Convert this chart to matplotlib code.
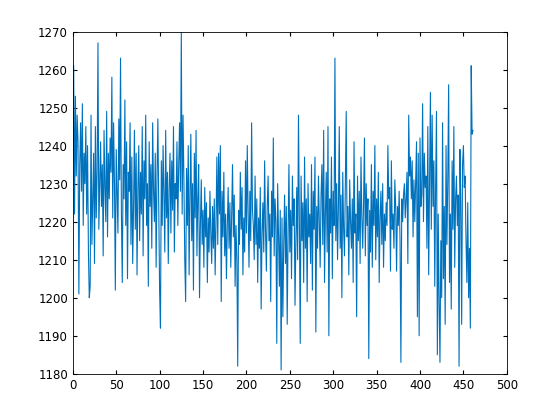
import matplotlib
matplotlib.use('Agg')
import matplotlib.pyplot as plt

# values, 10 per row
values = [
    1236, 1261, 1222, 1253, 1232, 1248, 1241, 1201, 1235, 1246,
    1228, 1251, 1219, 1238, 1230, 1245, 1222, 1240, 1212, 1200,
    1203, 1248, 1214, 1226, 1238, 1209, 1245, 1221, 1233, 1267,
    1218, 1230, 1241, 1224, 1235, 1211, 1244, 1229, 1220, 1249,
    1216, 1238, 1226, 1242, 1233, 1258, 1221, 1246, 1230, 1202,
    1239, 1228, 1217, 1247, 1231, 1263, 1222, 1204, 1235, 1226,
    1252, 1219, 1241, 1205, 1233, 1228, 1246, 1214, 1237, 1209,
    1224, 1244, 1218, 1238, 1206, 1229, 1240, 1215, 1233, 1222,
    1245, 1211, 1236, 1226, 1248, 1219, 1230, 1203, 1241, 1224,
    1235, 1213, 1246, 1228, 1220, 1238, 1208, 1232, 1247, 1225,
    1202, 1192, 1236, 1219, 1240, 1227, 1212, 1244, 1221, 1233,
    1209, 1229, 1238, 1217, 1236, 1223, 1245, 1212, 1230, 1226,
    1241, 1219, 1235, 1246, 1228, 1270, 1222, 1248, 1231, 1210,
    1199, 1234, 1219, 1240, 1206, 1227, 1243, 1215, 1230, 1202,
    1238, 1221, 1244, 1211, 1226, 1235, 1200, 1219, 1231, 1214,
    1223, 1208, 1229, 1216, 1225, 1204, 1221, 1212, 1228, 1217,
    1209, 1224, 1213, 1226, 1206, 1220, 1237, 1214, 1238, 1222,
    1240, 1199, 1228, 1216, 1233, 1211, 1222, 1205, 1219, 1229,
    1213, 1225, 1208, 1221, 1235, 1216, 1227, 1203, 1219, 1210,
    1182, 1223, 1214, 1233, 1218, 1229, 1206, 1221, 1212, 1236,
    1217, 1240, 1222, 1208, 1228, 1215, 1246, 1223, 1219, 1210,
    1232, 1214, 1226, 1204, 1221, 1213, 1229, 1197, 1217, 1225,
    1212, 1236, 1218, 1207, 1224, 1232, 1215, 1222, 1199, 1228,
    1216, 1242, 1211, 1226, 1220, 1188, 1230, 1217, 1203, 1223,
    1181, 1221, 1195, 1214, 1227, 1209, 1224, 1193, 1216, 1235,
    1212, 1223, 1205, 1232, 1219, 1226, 1198, 1215, 1229, 1210,
    1248, 1221, 1188, 1232, 1215, 1225, 1204, 1237, 1213, 1226,
    1199, 1230, 1216, 1222, 1209, 1235, 1202, 1228, 1218, 1237,
    1191, 1224, 1213, 1232, 1220, 1208, 1227, 1235, 1214, 1244,
    1204, 1222, 1233, 1212, 1245, 1190, 1226, 1217, 1237, 1205,
    1228, 1219, 1263, 1215, 1230, 1210, 1224, 1245, 1213, 1227,
    1200, 1233, 1218, 1211, 1229, 1249, 1216, 1224, 1206, 1231,
    1220, 1213, 1226, 1204, 1241, 1217, 1222, 1195, 1232, 1215,
    1228, 1209, 1237, 1221, 1213, 1225, 1242, 1211, 1230, 1219,
    1226, 1184, 1223, 1212, 1235, 1208, 1228, 1219, 1240, 1210,
    1226, 1216, 1233, 1204, 1221, 1228, 1214, 1230, 1208, 1222,
    1215, 1225, 1219, 1240, 1226, 1229, 1207, 1236, 1218, 1222,
    1213, 1231, 1224, 1207, 1224, 1219, 1228, 1215, 1183, 1226,
    1220, 1227, 1230, 1221, 1226, 1233, 1209, 1248, 1232, 1237,
    1226, 1236, 1216, 1231, 1220, 1230, 1241, 1195, 1238, 1190,
    1242, 1224, 1227, 1251, 1220, 1238, 1229, 1232, 1213, 1245,
    1206, 1229, 1254, 1218, 1248, 1224, 1236, 1203, 1229, 1249,
    1185, 1222, 1199, 1183, 1215, 1200, 1246, 1205, 1224, 1193,
    1240, 1214, 1231, 1256, 1204, 1222, 1197, 1236, 1218, 1245,
    1208, 1226, 1232, 1219, 1227, 1182, 1239, 1225, 1193, 1235,
    1240, 1229, 1232, 1215, 1204, 1225, 1200, 1213, 1192, 1261,
    1243, 1244,
]
xs = list(range(len(values)))

fig = plt.figure(figsize=(5.6, 4.2), dpi=100)
ax = fig.add_axes([0.13, 0.11, 0.775, 0.815])
ax.plot(xs, values, color='#0072BD', linewidth=0.8)
ax.set_xlim(0, 500)
ax.set_ylim(1180, 1270)
ax.set_xticks(range(0, 501, 50))
ax.set_yticks(range(1180, 1271, 10))
ax.tick_params(direction='in', labelsize=8.5, length=3, top=True, right=True, labeltop=False, labelright=False)
for s in ax.spines.values():
    s.set_linewidth(0.6)
fig.savefig('out.png', dpi=100)
